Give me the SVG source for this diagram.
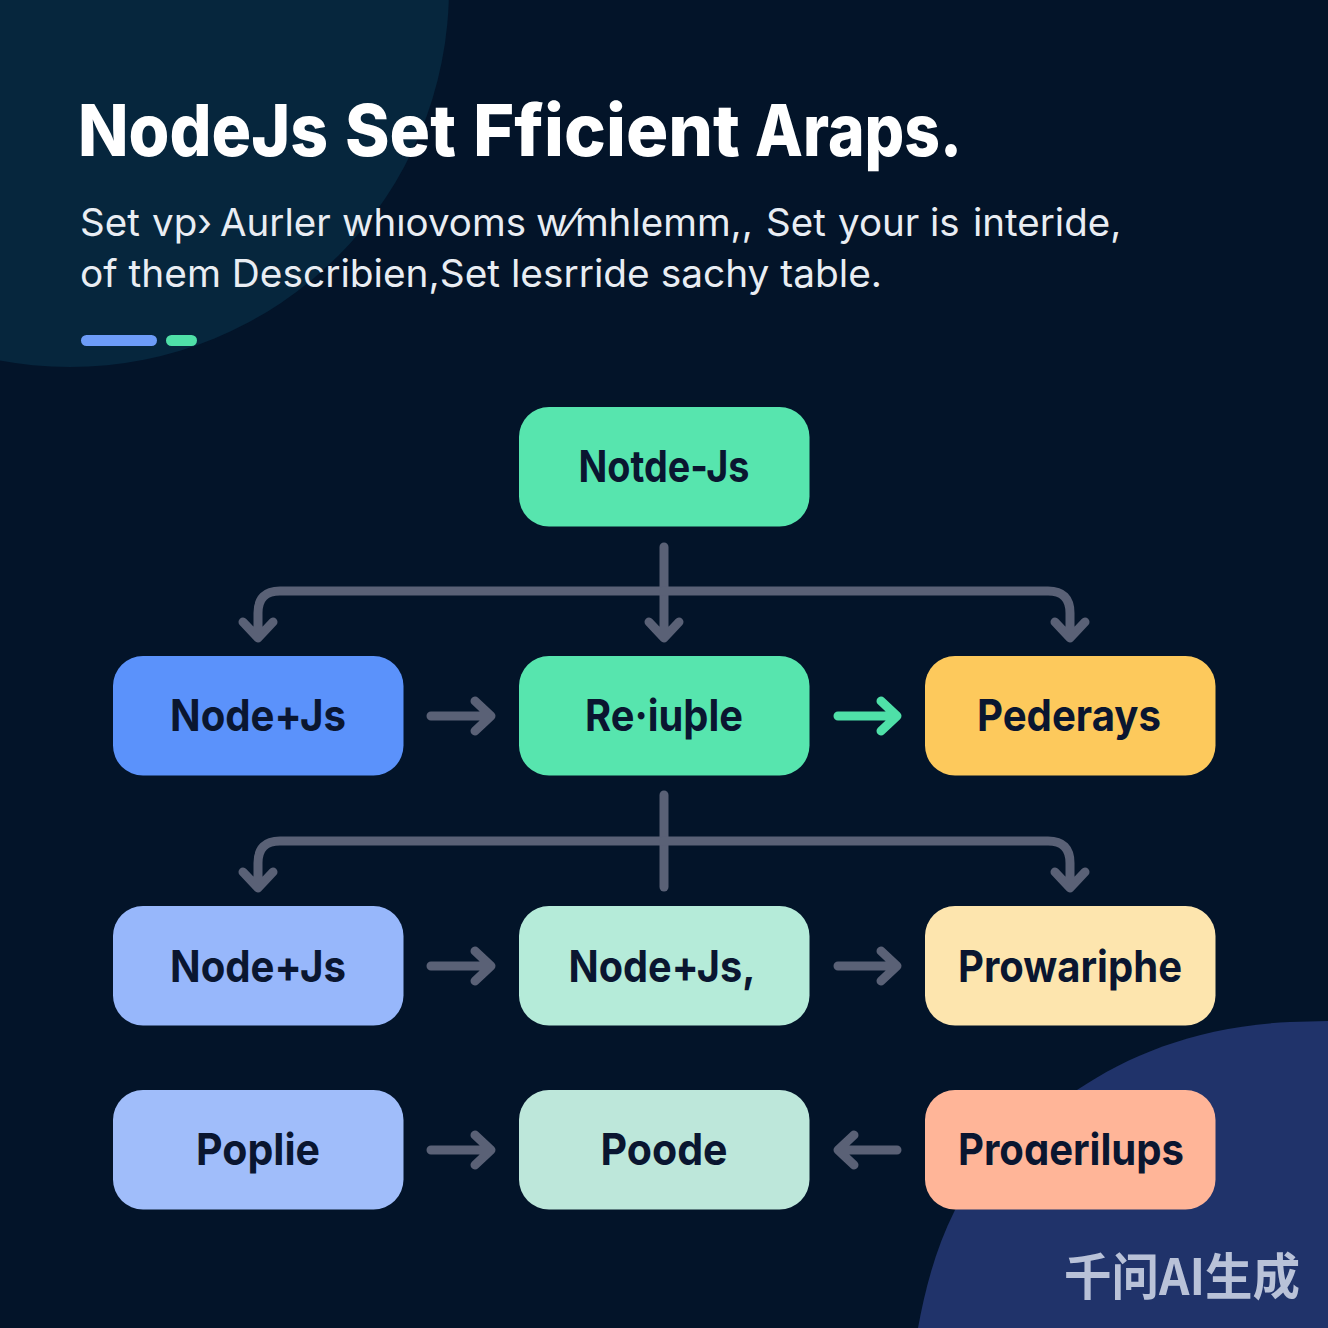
<svg xmlns="http://www.w3.org/2000/svg" width="1328" height="1328" viewBox="0 0 1328 1328">
<defs>
<style>
.n{font-family:Inter,"Liberation Sans",sans-serif;font-size:44px;font-weight:700;fill:#0a1630;text-anchor:middle}
.sub{font-family:Inter,"Liberation Sans",sans-serif;font-size:38.5px;fill:#e9edf3}
.c{fill:none;stroke:#5a6176;stroke-width:9;stroke-linecap:round;stroke-linejoin:round}
</style>
</defs>
<rect width="1328" height="1328" fill="#031429"/>
<circle cx="70" cy="-12" r="379" fill="#06263d"/>
<path d="M1328 1021L1290 1022C1200 1026 1130 1054 1077 1090C1030 1122 985 1160 955 1210C935 1250 925 1290 918 1328H1328Z" fill="#20336a"/>
<text y="156" font-family="Inter,'Liberation Sans',sans-serif" font-size="72" font-weight="800" fill="#fff"><tspan x="78" textLength="250" lengthAdjust="spacingAndGlyphs">NodeJs</tspan> <tspan x="345" textLength="111" lengthAdjust="spacingAndGlyphs">Set</tspan> <tspan x="473" textLength="267" lengthAdjust="spacingAndGlyphs">Fficient</tspan> <tspan x="755" textLength="207" lengthAdjust="spacingAndGlyphs">Araps.</tspan></text>
<text class="sub" y="236"><tspan x="80">Set</tspan> <tspan x="152">vp›</tspan> <tspan x="220">Aurler</tspan> <tspan x="342">whıovoms</tspan> <tspan x="536">w⁄mhlemm,,</tspan> <tspan x="766">Set</tspan> <tspan x="838">your</tspan> <tspan x="930">is</tspan> <tspan x="973">interide,</tspan></text>
<text class="sub" x="80" y="287" textLength="802" lengthAdjust="spacingAndGlyphs">of them Describien,Set lesrride sachy table.</text>
<rect x="81" y="335" width="76" height="11" rx="5.5" fill="#6d9cf8"/>
<rect x="166" y="335" width="31" height="11" rx="5.5" fill="#4fe0a8"/>
<g id="connectors">
<path class="c" d="M664 547V636M649 622L664 638L679 622"/>
<path class="c" d="M664 591H280Q258 591 258 613V636M243 622L258 638L273 622"/>
<path class="c" d="M664 591H1048Q1070 591 1070 613V636M1055 622L1070 638L1085 622"/>
<path class="c" d="M431 716H490M475 701L491 716L475 731"/>
<path class="c" style="stroke:#4fe0a8" d="M838 716H896M881 701L897 716L881 731"/>
<path class="c" d="M664 795V887"/>
<path class="c" d="M664 841H280Q258 841 258 863V886M243 872L258 888L273 872"/>
<path class="c" d="M664 841H1048Q1070 841 1070 863V886M1055 872L1070 888L1085 872"/>
<path class="c" d="M431 966H490M475 951L491 966L475 981"/>
<path class="c" d="M838 966H896M881 951L897 966L881 981"/>
<path class="c" d="M431 1150H490M475 1135L491 1150L475 1165"/>
<path class="c" d="M897 1150H839M854 1135L838 1150L854 1165"/>
</g>
<g id="n1"><rect x="519" y="407" width="290.5" height="119.5" rx="30" fill="#57e5ae"/><text class="n" x="664" y="482" textLength="171" lengthAdjust="spacingAndGlyphs">Notde-Js</text></g>
<g id="n2"><rect x="113" y="656" width="290.5" height="119.5" rx="30" fill="#5b92fb"/><text class="n" x="258" y="731" textLength="176" lengthAdjust="spacingAndGlyphs">Node+Js</text></g>
<g id="n3"><rect x="519" y="656" width="290.5" height="119.5" rx="30" fill="#57e5ae"/><text class="n" x="664" y="731" textLength="158" lengthAdjust="spacingAndGlyphs">Re·iuþle</text></g>
<g id="n4"><rect x="925" y="656" width="290.5" height="119.5" rx="30" fill="#fdc95c"/><text class="n" x="1069" y="731" textLength="184" lengthAdjust="spacingAndGlyphs">Pederays</text></g>
<g id="n5"><rect x="113" y="906" width="290.5" height="119.5" rx="30" fill="#97b7fb"/><text class="n" x="258" y="982" textLength="176" lengthAdjust="spacingAndGlyphs">Node+Js</text></g>
<g id="n6"><rect x="519" y="906" width="290.5" height="119.5" rx="30" fill="#b5ebd9"/><text class="n" x="662" y="982" textLength="187" lengthAdjust="spacingAndGlyphs">Node+Js,</text></g>
<g id="n7"><rect x="925" y="906" width="290.5" height="119.5" rx="30" fill="#fde5ae"/><text class="n" x="1070" y="982" textLength="224" lengthAdjust="spacingAndGlyphs">Prowariphe</text></g>
<g id="n8"><rect x="113" y="1090" width="290.5" height="119.5" rx="30" fill="#a0bdfa"/><text class="n" x="258" y="1165" textLength="124" lengthAdjust="spacingAndGlyphs">Poplie</text></g>
<g id="n9"><rect x="519" y="1090" width="290.5" height="119.5" rx="30" fill="#bde7da"/><text class="n" x="664" y="1165" textLength="127" lengthAdjust="spacingAndGlyphs">Poode</text></g>
<g id="n10"><rect x="925" y="1090" width="290.5" height="119.5" rx="30" fill="#ffb598"/><text class="n" x="1071" y="1165" textLength="226" lengthAdjust="spacingAndGlyphs">Proɑerilups</text></g>
<text x="1064" y="1295" font-family="'Noto Sans CJK SC',sans-serif" font-size="50" font-weight="700" fill="#b9c2d8" textLength="236" lengthAdjust="spacingAndGlyphs">千问AI生成</text>
</svg>
